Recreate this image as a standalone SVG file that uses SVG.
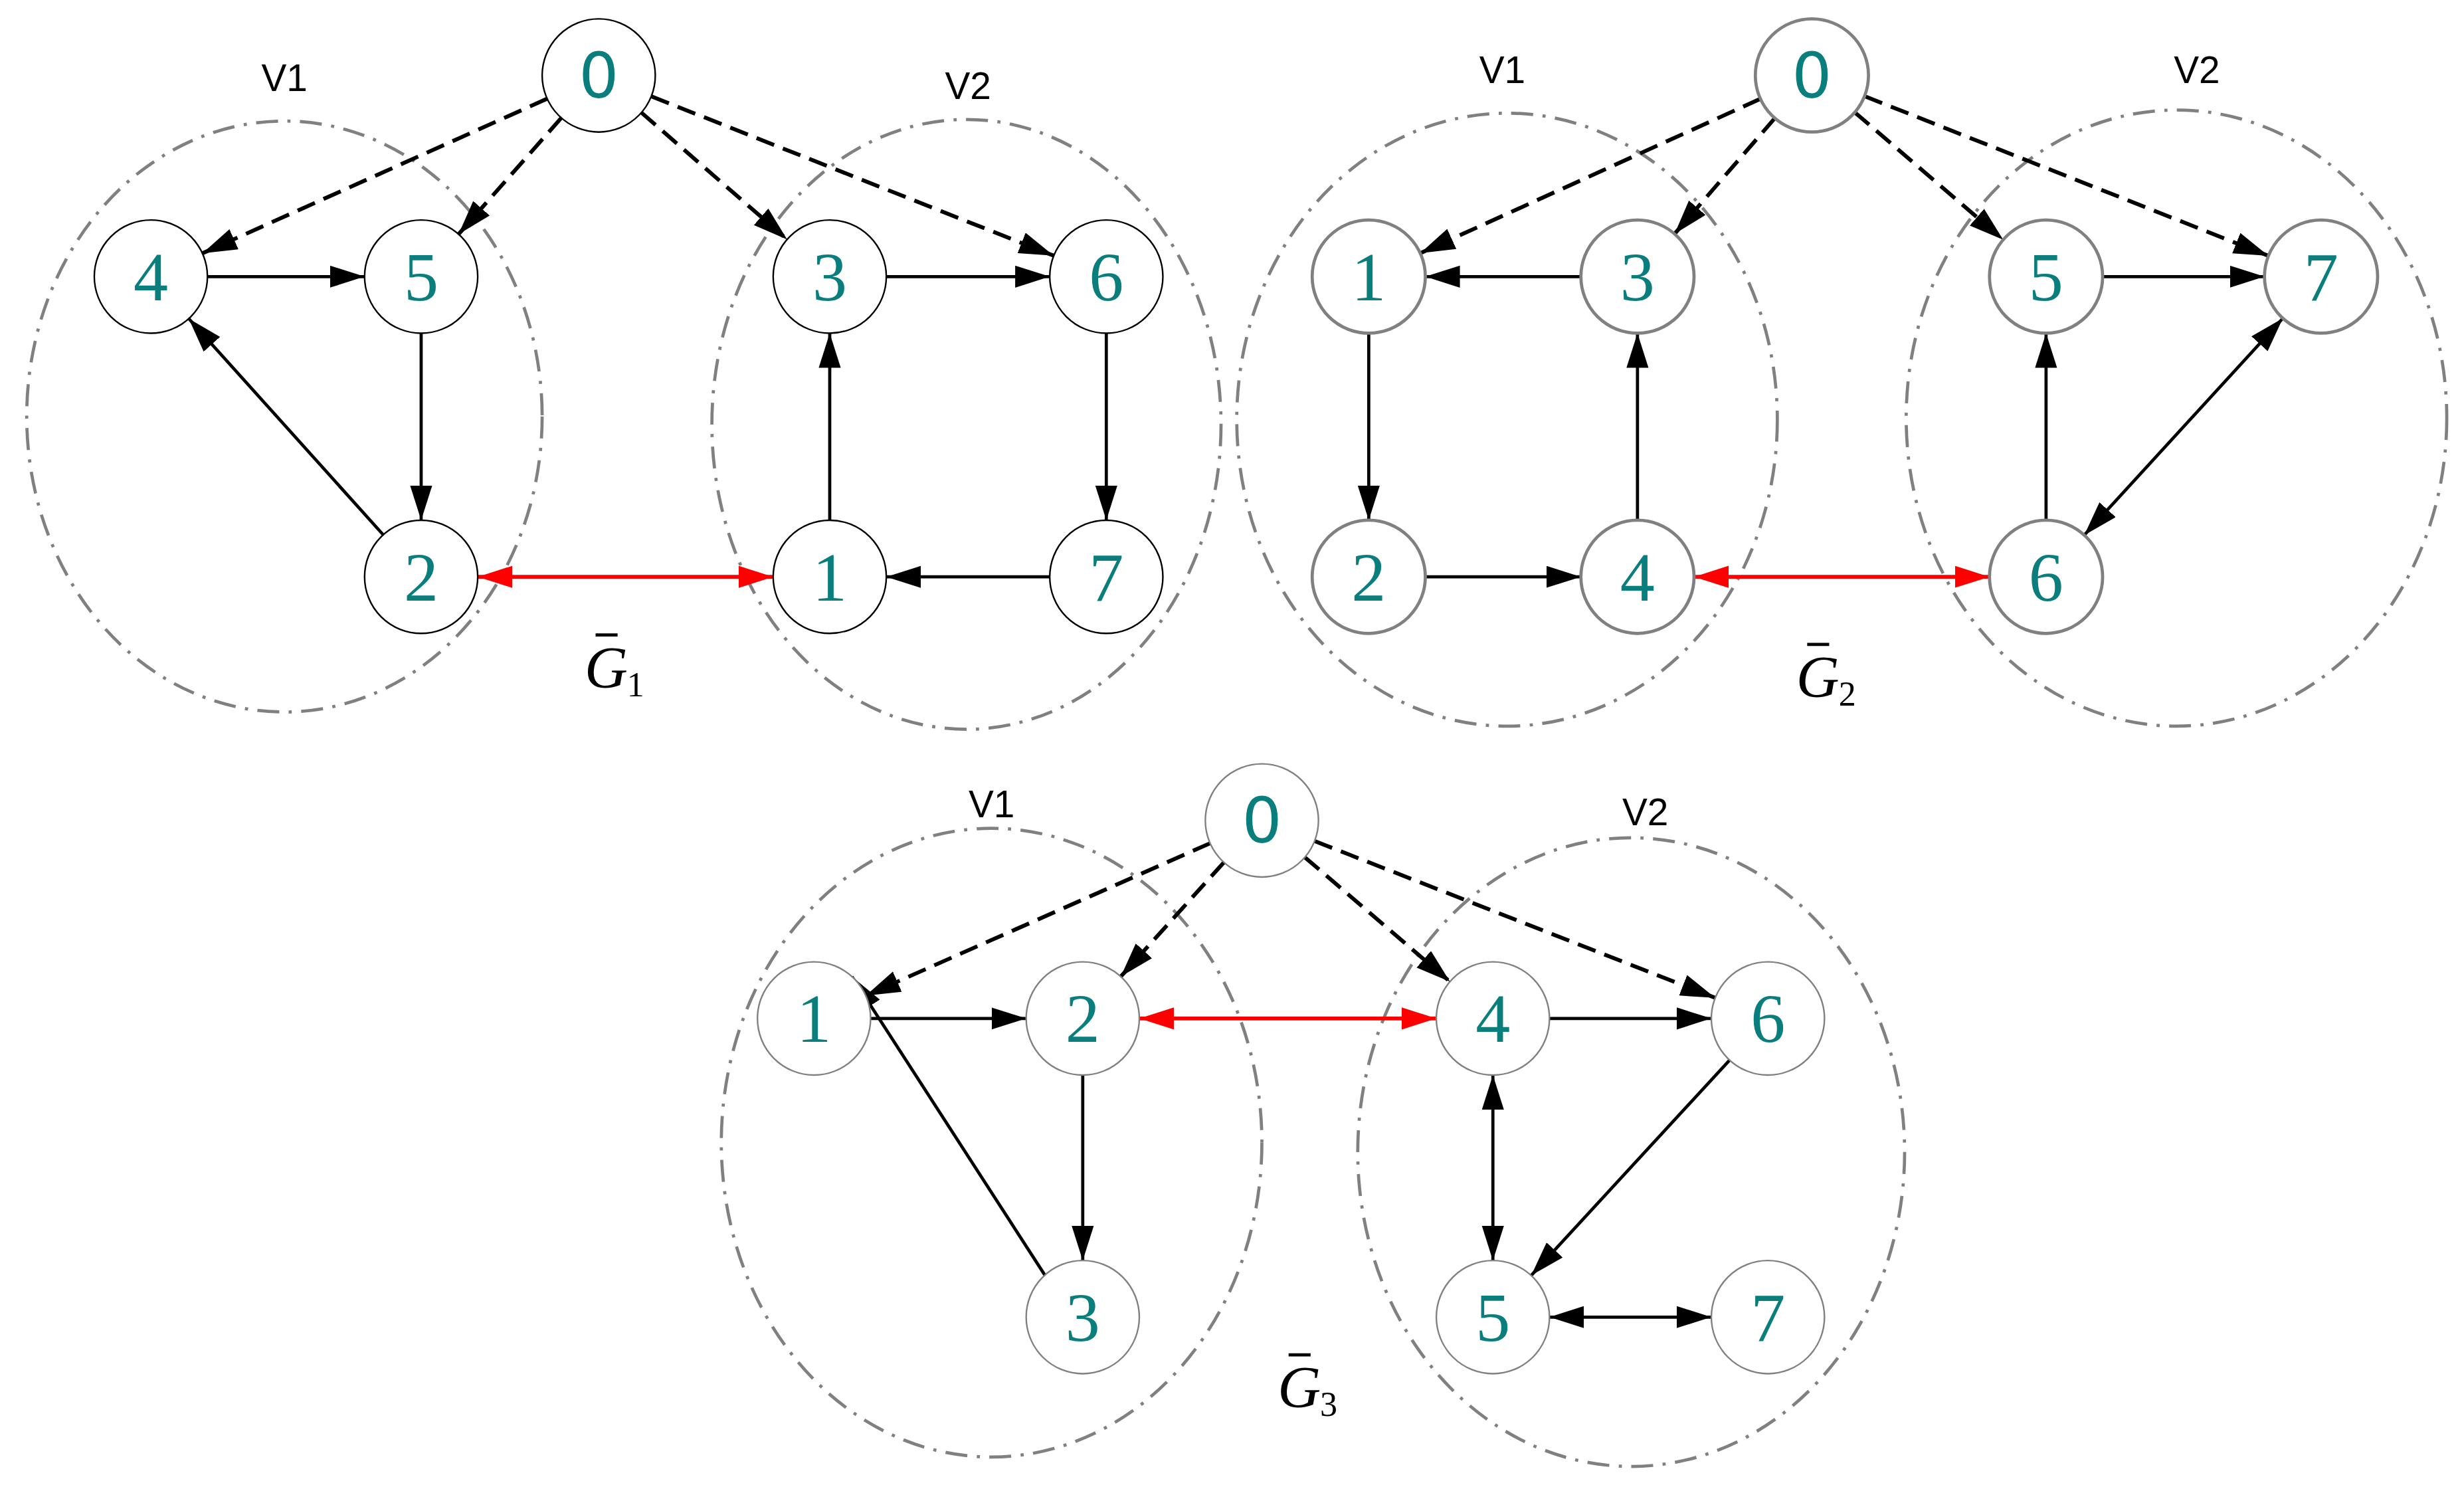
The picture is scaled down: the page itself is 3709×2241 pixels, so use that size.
<svg xmlns="http://www.w3.org/2000/svg" width="3709" height="2241" viewBox="0 0 3709 2241">
<style>
.grp{fill:none;stroke:#808080;stroke-width:2;stroke-dasharray:14,6,2,6}
.n1{fill:#fff;stroke:#000;stroke-width:1}
.n2{fill:#fff;stroke:#808080;stroke-width:2}
.n3{fill:#fff;stroke:#808080;stroke-width:1}
.t{font-family:"Liberation Serif",serif;font-size:44px;fill:#0a7d7d;text-anchor:middle}
.z{font-family:"DejaVu Sans","Liberation Sans",sans-serif;font-size:40px;fill:#0a7d7d;text-anchor:middle}
.v{font-family:"Liberation Sans",sans-serif;font-size:24px;fill:#000;text-anchor:middle}
.g{font-family:"Liberation Serif",serif;font-style:italic;font-size:38px;fill:#000}
.s{font-family:"Liberation Serif",serif;font-size:22px;fill:#000}
.e{stroke:#000;stroke-width:2;fill:none;marker-end:url(#ah)}
.d{stroke:#000;stroke-width:2.5;stroke-dasharray:12,6;fill:none;marker-end:url(#ah)}
.b{stroke:#000;stroke-width:2;fill:none;marker-end:url(#ah);marker-start:url(#ah)}
.r{stroke:#f00;stroke-width:2.5;fill:none;marker-end:url(#ar);marker-start:url(#ar)}
</style>
<defs>
<marker id="ah" markerUnits="userSpaceOnUse" markerWidth="24" markerHeight="16" refX="22" refY="7" orient="auto-start-reverse"><path d="M0,0 L22,7 L0,14 z" fill="#000"/></marker>
<marker id="ar" markerUnits="userSpaceOnUse" markerWidth="24" markerHeight="16" refX="22" refY="7" orient="auto-start-reverse"><path d="M0,0 L22,7 L0,14 z" fill="#f00"/></marker>
</defs>
<rect width="3709" height="2241" fill="#fff"/>
<g transform="scale(2.3655)">
<g id="groups">
<ellipse class="grp" cx="181" cy="265" rx="164" ry="188"/>
<ellipse class="grp" cx="615" cy="270" rx="162" ry="194"/>
<ellipse class="grp" cx="959" cy="267" rx="172" ry="195"/>
<ellipse class="grp" cx="1385" cy="266" rx="172" ry="196"/>
<ellipse class="grp" cx="631" cy="727" rx="172" ry="200"/>
<ellipse class="grp" cx="1038" cy="733" rx="174" ry="200"/>
<text class="v" x="181" y="58">V1</text><text class="v" x="616" y="63">V2</text>
<text class="v" x="956" y="53">V1</text><text class="v" x="1398" y="53">V2</text>
<text class="v" x="631" y="520">V1</text><text class="v" x="1047" y="525">V2</text>
</g>
<g id="connectors">
<line class="d" x1="348.2" y1="62.8" x2="128.8" y2="161.2"/>
<line class="d" x1="357.2" y1="75" x2="291.8" y2="149"/>
<line class="d" x1="408.1" y1="71.6" x2="500.9" y2="152.4"/>
<line class="d" x1="414.5" y1="61.3" x2="670.5" y2="162.7"/>
<line class="e" x1="132" y1="176" x2="232" y2="176"/>
<line class="e" x1="268" y1="212" x2="268" y2="331"/>
<line class="e" x1="243.9" y1="340.3" x2="120.1" y2="202.7"/>
<line class="e" x1="564" y1="176" x2="668" y2="176"/>
<line class="e" x1="704" y1="212" x2="704" y2="331"/>
<line class="e" x1="668" y1="367" x2="564" y2="367"/>
<line class="e" x1="528" y1="331" x2="528" y2="212"/>
<line class="r" x1="304" y1="367" x2="492" y2="367"/>

<line class="d" x1="1120.2" y1="62.9" x2="903.8" y2="161.1"/>
<line class="d" x1="1129.4" y1="75.2" x2="1065.6" y2="148.8"/>
<line class="d" x1="1180.3" y1="71.5" x2="1274.7" y2="152.5"/>
<line class="d" x1="1186.5" y1="61.2" x2="1443.5" y2="162.8"/>
<line class="e" x1="1006" y1="176" x2="907" y2="176"/>
<line class="e" x1="871" y1="212" x2="871" y2="331"/>
<line class="e" x1="907" y1="367" x2="1006" y2="367"/>
<line class="e" x1="1042" y1="331" x2="1042" y2="212"/>
<line class="e" x1="1338" y1="176" x2="1441" y2="176"/>
<line class="e" x1="1302" y1="331" x2="1302" y2="212"/>
<line class="b" x1="1452.7" y1="202.5" x2="1326.3" y2="340.5"/>
<line class="r" x1="1078" y1="367" x2="1266" y2="367"/>

<line class="d" x1="770.1" y1="536.5" x2="550.9" y2="633.5"/>
<line class="d" x1="778.8" y1="548.7" x2="713.2" y2="621.3"/>
<line class="d" x1="830.3" y1="545.4" x2="922.7" y2="624.6"/>
<line class="d" x1="836.5" y1="535.1" x2="1091.5" y2="634.9"/>
<line class="e" x1="554" y1="648" x2="653" y2="648"/>
<line class="e" x1="689" y1="684" x2="689" y2="802"/>
<line class="e" x1="664.9" y1="811.3" x2="542.1" y2="621.3"/>
<line class="e" x1="986" y1="648" x2="1089" y2="648"/>
<line class="e" x1="1100.6" y1="674.5" x2="974.4" y2="811.5"/>
<line class="b" x1="950" y1="684" x2="950" y2="802"/>
<line class="b" x1="986" y1="838" x2="1089" y2="838"/>
<line class="r" x1="725" y1="648" x2="914" y2="648"/>
</g>
<g id="g1-nodes">
<g id="g1-n0"><circle class="n1" cx="381" cy="48" r="36"/><text class="z" x="381" y="62">0</text></g>
<g id="g1-n4"><circle class="n1" cx="96" cy="176" r="36"/><text class="t" x="96" y="191">4</text></g>
<g id="g1-n5"><circle class="n1" cx="268" cy="176" r="36"/><text class="t" x="268" y="191">5</text></g>
<g id="g1-n3"><circle class="n1" cx="528" cy="176" r="36"/><text class="t" x="528" y="191">3</text></g>
<g id="g1-n6"><circle class="n1" cx="704" cy="176" r="36"/><text class="t" x="704" y="191">6</text></g>
<g id="g1-n2"><circle class="n1" cx="268" cy="367" r="36"/><text class="t" x="268" y="382">2</text></g>
<g id="g1-n1"><circle class="n1" cx="528" cy="367" r="36"/><text class="t" x="528" y="382">1</text></g>
<g id="g1-n7"><circle class="n1" cx="704" cy="367" r="36"/><text class="t" x="704" y="382">7</text></g>
</g>
<g id="g2-nodes">
<g id="g2-n0"><circle class="n2" cx="1153" cy="48" r="36"/><text class="z" x="1153" y="62">0</text></g>
<g id="g2-n1"><circle class="n2" cx="871" cy="176" r="36"/><text class="t" x="871" y="191">1</text></g>
<g id="g2-n3"><circle class="n2" cx="1042" cy="176" r="36"/><text class="t" x="1042" y="191">3</text></g>
<g id="g2-n5"><circle class="n2" cx="1302" cy="176" r="36"/><text class="t" x="1302" y="191">5</text></g>
<g id="g2-n7"><circle class="n2" cx="1477" cy="176" r="36"/><text class="t" x="1477" y="191">7</text></g>
<g id="g2-n2"><circle class="n2" cx="871" cy="367" r="36"/><text class="t" x="871" y="382">2</text></g>
<g id="g2-n4"><circle class="n2" cx="1042" cy="367" r="36"/><text class="t" x="1042" y="382">4</text></g>
<g id="g2-n6"><circle class="n2" cx="1302" cy="367" r="36"/><text class="t" x="1302" y="382">6</text></g>
</g>
<g id="g3-nodes">
<g id="g3-n0"><circle class="n3" cx="803" cy="522" r="36"/><text class="z" x="803" y="536">0</text></g>
<g id="g3-n1"><circle class="n3" cx="518" cy="648" r="36"/><text class="t" x="518" y="663">1</text></g>
<g id="g3-n2"><circle class="n3" cx="689" cy="648" r="36"/><text class="t" x="689" y="663">2</text></g>
<g id="g3-n4"><circle class="n3" cx="950" cy="648" r="36"/><text class="t" x="950" y="663">4</text></g>
<g id="g3-n6"><circle class="n3" cx="1125" cy="648" r="36"/><text class="t" x="1125" y="663">6</text></g>
<g id="g3-n3"><circle class="n3" cx="689" cy="838" r="36"/><text class="t" x="689" y="853">3</text></g>
<g id="g3-n5"><circle class="n3" cx="950" cy="838" r="36"/><text class="t" x="950" y="853">5</text></g>
<g id="g3-n7"><circle class="n3" cx="1125" cy="838" r="36"/><text class="t" x="1125" y="853">7</text></g>
</g>
<g id="titles">
<line x1="379" y1="404" x2="393" y2="404" stroke="#000" stroke-width="2"/>
<text class="g" x="372" y="437">G</text><text class="s" x="399" y="443">1</text>
<line x1="1150" y1="410" x2="1164" y2="410" stroke="#000" stroke-width="2"/>
<text class="g" x="1143" y="443">G</text><text class="s" x="1170" y="449">2</text>
<line x1="820" y1="862" x2="834" y2="862" stroke="#000" stroke-width="2"/>
<text class="g" x="813" y="895">G</text><text class="s" x="840" y="901">3</text>
</g>
</g>
</svg>
